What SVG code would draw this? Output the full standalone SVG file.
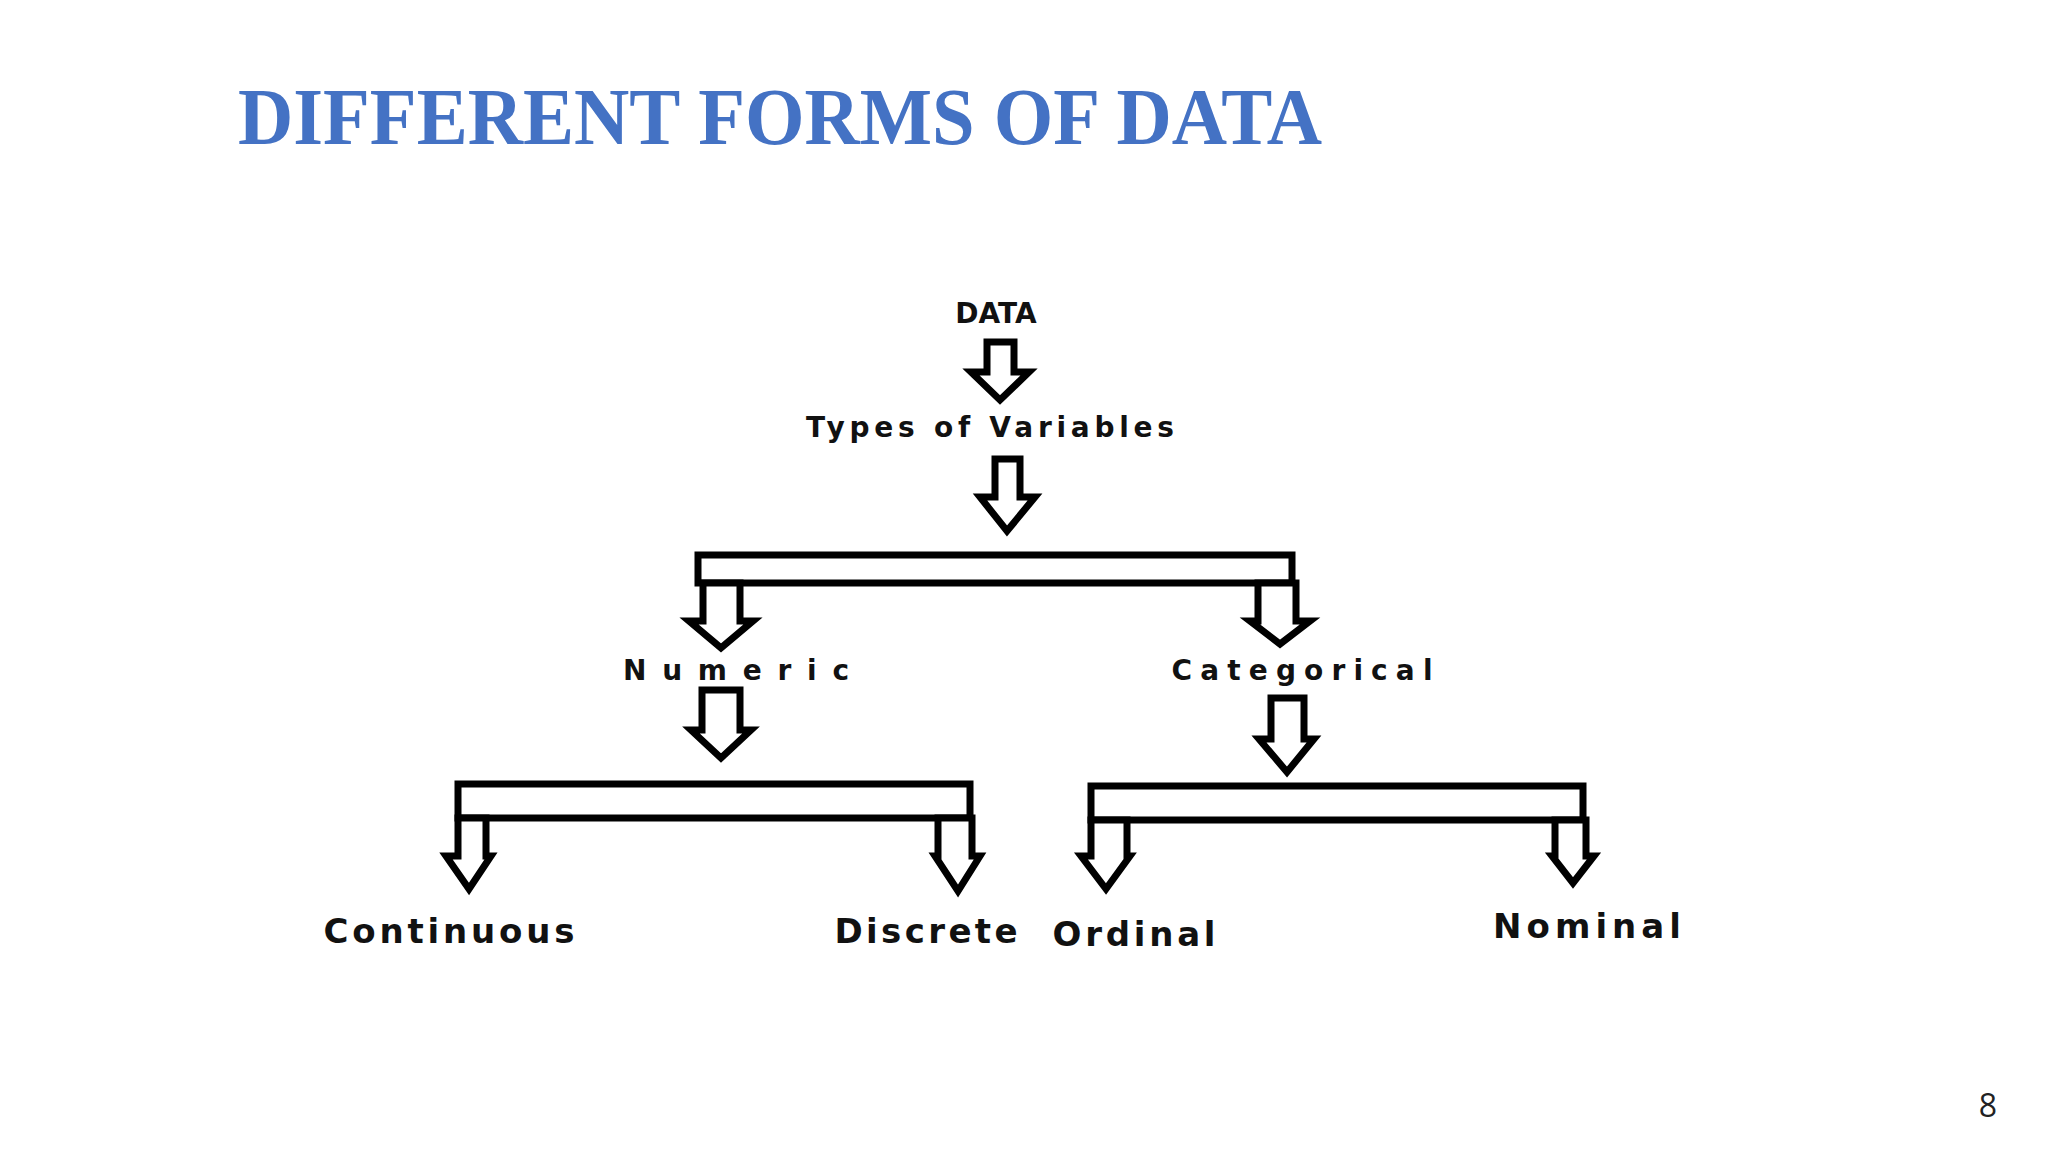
<svg xmlns="http://www.w3.org/2000/svg" width="2048" height="1152" viewBox="0 0 2048 1152">
<style>
.t{font-family:"DejaVu Sans",Verdana,sans-serif;font-weight:bold;fill:#111;text-anchor:middle}
.a{fill:#fff;stroke:#000;stroke-width:7;stroke-linejoin:miter}
.b{fill:#fff;stroke:#000;stroke-width:7}
</style>
<rect width="2048" height="1152" fill="#fff"/>
<text x="238" y="144" font-family="Liberation Serif,serif" font-weight="bold" font-size="80" fill="#4472C4" textLength="1084" lengthAdjust="spacingAndGlyphs">DIFFERENT FORMS OF DATA</text>
<text x="1988" y="1117" font-family="Open Sans,sans-serif" font-size="32" fill="#222" text-anchor="middle">8</text>
<g id="n-data"><text class="t" x="996" y="323" font-size="28">DATA</text></g>
<g id="n-types"><text class="t" x="990" y="437" font-size="28" textLength="368">Types of Variables</text></g>
<g id="n-numeric"><text class="t" x="736" y="680" font-size="28" textLength="226">Numeric</text></g>
<g id="n-categorical"><text class="t" x="1302" y="680" font-size="28" textLength="261">Categorical</text></g>
<g id="n-continuous"><text class="t" x="449" y="943" font-size="34" textLength="251">Continuous</text></g>
<g id="n-discrete"><text class="t" x="926" y="943" font-size="34" textLength="183">Discrete</text></g>
<g id="n-ordinal"><text class="t" x="1134" y="946" font-size="34" textLength="163">Ordinal</text></g>
<g id="n-nominal"><text class="t" x="1587" y="938" font-size="34" textLength="188">Nominal</text></g>
<g id="connectors">
<path class="a" d="M987 342H1014V372H1029L1000 400L971 372H987Z"/>
<path class="a" d="M995 459H1020V497H1035L1007 531L980 497H995Z"/>
<rect class="b" x="698" y="555" width="594" height="28"/>
<path class="a" d="M703 583H740V621H753L721 648L689 621H703Z"/>
<path class="a" d="M1258 583H1296V621H1310L1280 644L1250 621H1258Z"/>
<path class="a" d="M702 690H740V730H751L721 758L691 730H702Z"/>
<path class="a" d="M1271 698H1304V739H1314L1287 772L1259 739H1271Z"/>
<rect class="b" x="458" y="784" width="512" height="34"/>
<path class="a" d="M458 818H486V856H491L469 889L446 856H458Z"/>
<path class="a" d="M938 818H972V856H980L958 891L935 856H938Z"/>
<rect class="b" x="1091" y="786" width="492" height="34"/>
<path class="a" d="M1091 820H1127V856H1130L1106 889L1081 856H1091Z"/>
<path class="a" d="M1555 820H1586V856H1594L1573 883L1552 856H1555Z"/>
</g>
</svg>
